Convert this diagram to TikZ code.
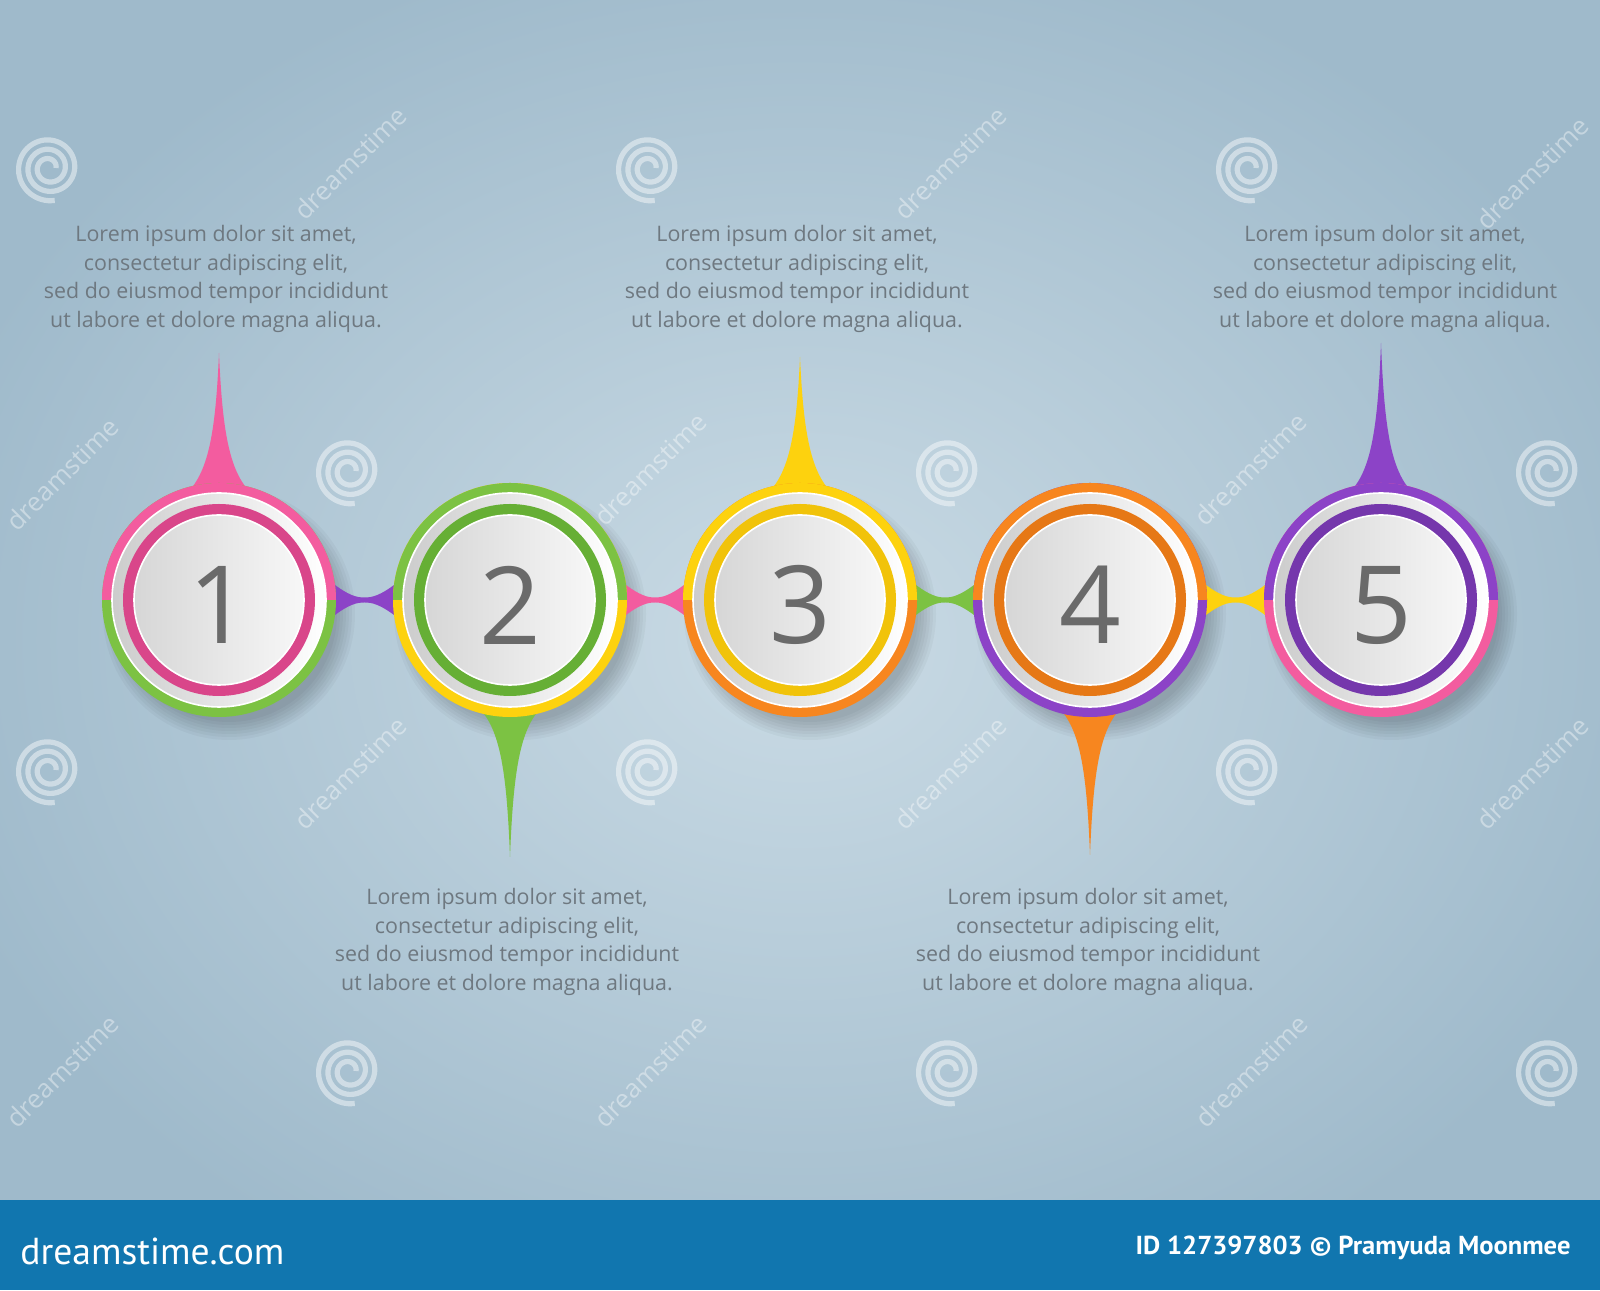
\documentclass[tikz,border=0pt]{standalone}
\usepackage{fontspec}
\usepackage{graphicx}
\setmainfont{Open Sans}
\newfontfamily\barfont{PT Sans}
\usetikzlibrary{calc}
\definecolor{bgin}{HTML}{CADBE5}
\definecolor{bgout}{HTML}{9FBACB}
\definecolor{barblue}{HTML}{1176AF}
\definecolor{txtgrey}{HTML}{6E7880}
\definecolor{numgrey}{HTML}{6A6A6A}
\definecolor{cpink}{HTML}{F35C9F}
\definecolor{cgreen}{HTML}{7CC243}
\definecolor{cyellow}{HTML}{FDD20E}
\definecolor{corange}{HTML}{F7861F}
\definecolor{cpurple}{HTML}{8C43C7}
\definecolor{rpink}{HTML}{D9468A}
\definecolor{rgreen}{HTML}{66AF35}
\definecolor{ryellow}{HTML}{F1C30A}
\definecolor{rorange}{HTML}{E67816}
\definecolor{rpurple}{HTML}{7537AC}
\tikzset{
 desc/.style={align=center, text=txtgrey, font=\fontsize{10.7}{14.25}\selectfont, inner sep=0pt},
 numlabel/.style={text=numgrey, font=\fontsize{54}{54}\selectfont, inner sep=0pt},
 wmtext/.style={text=white, text opacity=0.4, font=\fontsize{13}{13}\selectfont, rotate=45},
 wmspiral/.style={draw=white, draw opacity=0.45, line width=2.6pt},
}
\newcommand\mybadge[4]{%
 \fill[#3] (#1) circle[radius=117];
 \fill[#2] ($(#1)+(117,0)$) arc[start angle=0,end angle=180,radius=117] -- cycle;
 \shade[left color=black!20, right color=white] (#1) circle[radius=107];
 \draw[white, line width=0.8pt] (#1) circle[radius=107];
 \fill[#4] (#1) circle[radius=96];
 \shade[left color=black!16, right color=black!3] (#1) circle[radius=85];
 \draw[white, line width=0.8pt] (#1) circle[radius=85];
}
\newcommand\myspike[4]{%
 \fill[#2] ($(#1)+(-34,#3*105)$) .. controls ($(#1)+(-11,#3*126)$) and ($(#1)+(-3.5,#3*165)$) .. ($(#1)+(0,#3*#4)$)
  .. controls ($(#1)+(3.5,#3*165)$) and ($(#1)+(11,#3*126)$) .. ($(#1)+(34,#3*105)$) -- cycle;
}
\newcommand\mylink[3]{%
 \fill[#3] ($(#1)+(112,18)$) .. controls ($(#1)+(130,4)$) and ($(#1)+(138,2.5)$) .. ($(#1)!0.5!(#2)+(0,2.5)$)
  .. controls ($(#2)+(-138,2.5)$) and ($(#2)+(-130,4)$) .. ($(#2)+(-112,18)$)
  -- ($(#2)+(-112,-18)$)
  .. controls ($(#2)+(-130,-4)$) and ($(#2)+(-138,-2.5)$) .. ($(#1)!0.5!(#2)+(0,-2.5)$)
  .. controls ($(#1)+(138,-2.5)$) and ($(#1)+(130,-4)$) .. ($(#1)+(112,-18)$) -- cycle;
}
\newcommand\myswirl[2]{%
 \draw[wmspiral] plot[domain=0:1000, samples=90, variable=\t, smooth] ({#1+(7+\t/1000*26)*cos(\t)}, {#2+(7+\t/1000*26)*sin(\t)});
}
\begin{document}
\begin{tikzpicture}[x=0.5pt,y=0.5pt]
\useasboundingbox (0,0) rectangle (1600,1290);
% background
\fill[bgout] (0,90) rectangle (1600,1290);
\begin{scope}
 \clip (0,90) rectangle (1600,1290);
 \shade[inner color=bgin, outer color=bgout] (800,650) ellipse[x radius=900, y radius=720];
\end{scope}
% centres
\coordinate (c1) at (219,690);
\coordinate (c2) at (510,690);
\coordinate (c3) at (800,690);
\coordinate (c4) at (1090,690);
\coordinate (c5) at (1381,690);
% shadows
\foreach \c in {c1,c2,c3,c4,c5}{
 \foreach \k in {0,...,6}{
  \fill[black, opacity=0.03] ($(\c)+(10,-14)$) circle[radius=108+3*\k];
 }
}
% links
\mylink{c1}{c2}{cpurple}
\mylink{c2}{c3}{cpink}
\mylink{c3}{c4}{cgreen}
\mylink{c4}{c5}{cyellow}
% spikes
\myspike{c1}{cpink}{1}{247}
\myspike{c2}{cgreen}{-1}{257}
\myspike{c3}{cyellow}{1}{243}
\myspike{c4}{corange}{-1}{255}
\myspike{c5}{cpurple}{1}{257}
% badges
\mybadge{c1}{cpink}{cgreen}{rpink}
\mybadge{c2}{cgreen}{cyellow}{rgreen}
\mybadge{c3}{cyellow}{corange}{ryellow}
\mybadge{c4}{corange}{cpurple}{rorange}
\mybadge{c5}{cpurple}{cpink}{rpurple}
\node[numlabel] (n1) at ($(c1)+(0,-5)$) {1};
\node[numlabel] (n2) at ($(c2)+(0,-5)$) {2};
\node[numlabel] (n3) at ($(c3)+(0,-5)$) {3};
\node[numlabel] (n4) at ($(c4)+(0,-5)$) {4};
\node[numlabel] (n5) at ($(c5)+(0,-5)$) {5};
% descriptions
\node[desc] (t1) at (216,1011) {Lorem ipsum dolor sit amet,\\consectetur adipiscing elit,\\sed do eiusmod tempor incididunt\\ut labore et dolore magna aliqua.};
\node[desc] (t3) at (797,1011) {Lorem ipsum dolor sit amet,\\consectetur adipiscing elit,\\sed do eiusmod tempor incididunt\\ut labore et dolore magna aliqua.};
\node[desc] (t5) at (1385,1011) {Lorem ipsum dolor sit amet,\\consectetur adipiscing elit,\\sed do eiusmod tempor incididunt\\ut labore et dolore magna aliqua.};
\node[desc] (t2) at (507,348) {Lorem ipsum dolor sit amet,\\consectetur adipiscing elit,\\sed do eiusmod tempor incididunt\\ut labore et dolore magna aliqua.};
\node[desc] (t4) at (1088,348) {Lorem ipsum dolor sit amet,\\consectetur adipiscing elit,\\sed do eiusmod tempor incididunt\\ut labore et dolore magna aliqua.};
% watermarks
\myswirl{49}{1122}\myswirl{649}{1122}\myswirl{1249}{1122}
\myswirl{349}{819}\myswirl{949}{819}\myswirl{1549}{819}
\myswirl{49}{520}\myswirl{649}{520}\myswirl{1249}{520}
\myswirl{349}{219}\myswirl{949}{219}\myswirl{1549}{219}
\node[wmtext] (w1) at (350,1127) {dreamstime};
\node[wmtext] (w2) at (950,1127) {dreamstime};
\node[wmtext] (w3) at (1532,1117) {dreamstime};
\node[wmtext] (w4) at (62,816) {dreamstime};
\node[wmtext] (w5) at (650,821) {dreamstime};
\node[wmtext] (w6) at (1250,821) {dreamstime};
\node[wmtext] (w7) at (350,517) {dreamstime};
\node[wmtext] (w8) at (950,517) {dreamstime};
\node[wmtext] (w9) at (1532,517) {dreamstime};
\node[wmtext] (w10) at (62,219) {dreamstime};
\node[wmtext] (w11) at (650,219) {dreamstime};
\node[wmtext] (w12) at (1251,219) {dreamstime};
% bottom bar
\fill[barblue] (0,0) rectangle (1600,90);
\node[anchor=base west, text=white, inner sep=0pt] (logo) at (20,26) {\resizebox{132pt}{!}{\barfont dreamstime.com}};
\node[anchor=base east, text=white, inner sep=0pt] (credit) at (1571,36) {\resizebox{217.5pt}{\height}{\barfont\bfseries\fontsize{13}{13}\selectfont ID 127397803 © Pramyuda Moonmee}};
\end{tikzpicture}
\end{document}
